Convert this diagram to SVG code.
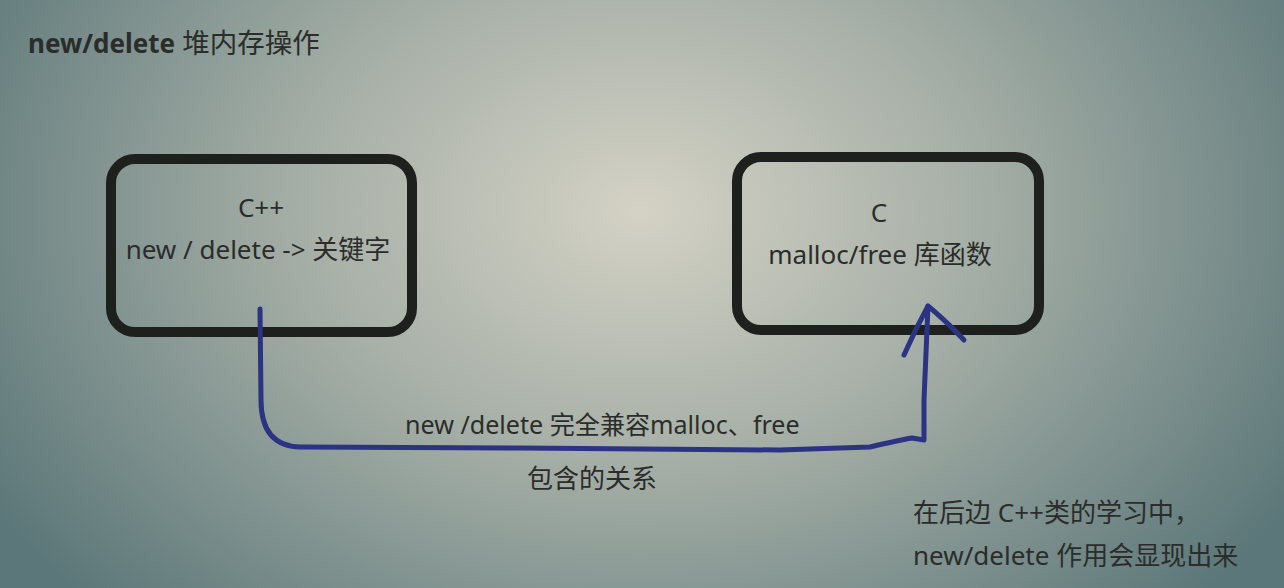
<svg xmlns="http://www.w3.org/2000/svg" width="1284" height="588" viewBox="0 0 1284 588">
<defs>
<radialGradient id="bg" cx="640" cy="210" r="760" gradientUnits="userSpaceOnUse" gradientTransform="translate(640 210) scale(1 0.75) translate(-640 -210)">
<stop offset="0" stop-color="#d4d2c5"/>
<stop offset="0.45" stop-color="#a5aea6"/>
<stop offset="1" stop-color="#5c7779"/>
</radialGradient>
<style>
.box{fill:none;stroke:#1e201e;stroke-width:10}
.t{font-family:"Noto Sans","Noto Sans CJK SC",sans-serif;font-size:26px;fill:#2a2d2a}
.c{text-anchor:middle}
.conn{fill:none;stroke:#2b3382;stroke-width:5;stroke-linecap:round;stroke-linejoin:round}
</style>
</defs>
<rect width="1284" height="588" fill="url(#bg)"/>
<g id="title"><text class="t" x="28" y="53"><tspan font-weight="bold">new/delete</tspan><tspan font-size="27.5"> 堆内存操作</tspan></text></g>
<g id="node-cpp">
<rect class="box" x="111" y="159" width="301" height="173" rx="24"/>
<text class="t c" x="261" y="217">C++</text>
<text class="t c" x="258" y="259">new / delete -&gt; 关键字</text>
</g>
<g id="node-c">
<rect class="box" x="737" y="157" width="302" height="173" rx="24"/>
<text class="t c" x="879" y="222">C</text>
<text class="t c" x="880" y="264">malloc/free  库函数</text>
</g>
<g id="connectors">
<path class="conn" d="M260,309 L261,400 Q261,446 300,447 L520,448 L780,450 L870,447 Q900,440 912,438 L924,440 L924,400 L928,306"/>
<path class="conn" d="M904,355 Q915,330 928,306 Q945,320 964,340"/>
</g>
<g id="labels">
<text class="t" x="405" y="434" style="font-size:25.1px">new /delete 完全兼容malloc、free</text>
<text class="t" x="527" y="488">包含的关系</text>
<text class="t" x="913" y="522">在后边 C++类的学习中，</text>
<text class="t" x="913" y="565">new/delete 作用会显现出来</text>
</g>
</svg>
